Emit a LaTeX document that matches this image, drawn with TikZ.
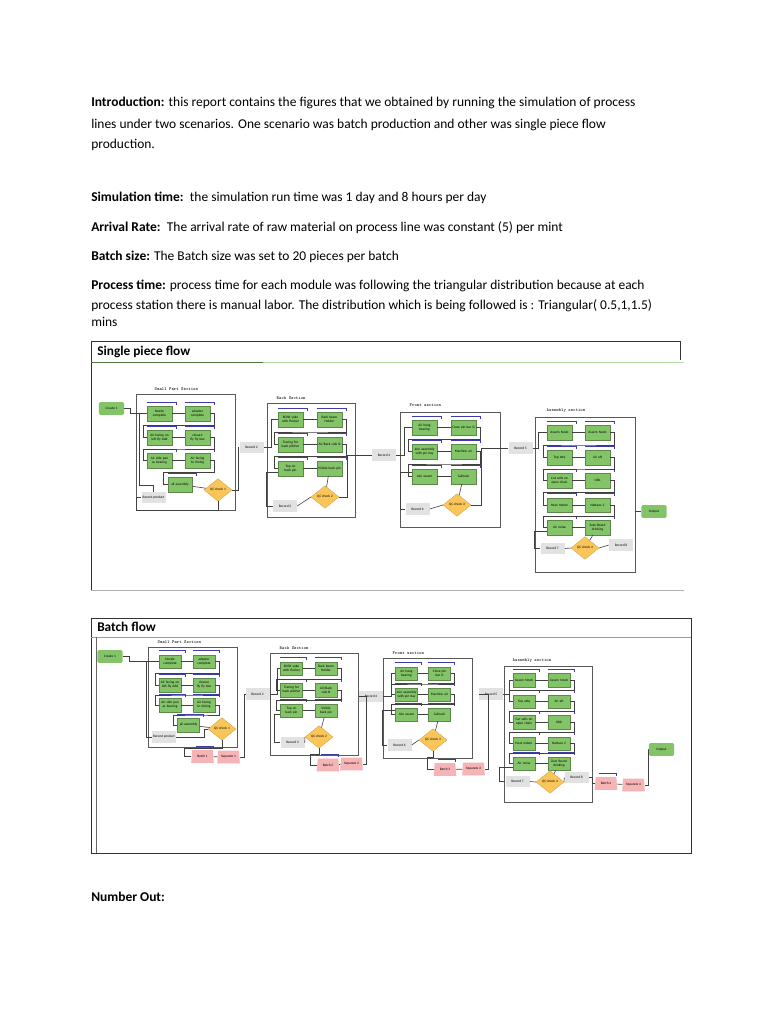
\documentclass[tikz,border=0pt]{standalone}
\usepackage{fontspec}
\setmainfont{Carlito}
\usetikzlibrary{shapes.geometric,calc}
\definecolor{gfill}{RGB}{132,196,104}
\definecolor{qfill}{RGB}{250,198,90}
\definecolor{rfill}{RGB}{226,226,226}
\definecolor{pfill}{RGB}{246,180,182}
\definecolor{barc}{RGB}{60,60,170}
\newcommand\tinyf{\fontsize{2.6}{3}\selectfont}
\newcommand\snk[2]{\draw[ln] (#1.east) -- ++(3pt,0) |- ($(#1.south)!.5!(#2.north)$) -| ([xshift=-3pt]#2.west) -- (#2.west);}
\newcommand\barr[1]{\draw[barc,line width=0.5pt] ([yshift=3pt]#1.north west) -- ([yshift=3pt,xshift=3pt]#1.north east) -- ++(0,-2pt);}
\tikzset{
 gbox/.style={draw=gfill!70!black,line width=0.2pt,fill=gfill,minimum width=18.5pt,minimum height=11pt,inner sep=0.3pt,align=center,text width=17pt,font=\tinyf},
 gsm/.style={gbox,minimum width=16.5pt,minimum height=10pt,text width=16pt},
 qc/.style={diamond,fill=qfill,draw=qfill!80!black,line width=0.2pt,minimum width=21pt,minimum height=17pt,inner sep=0pt,font=\tinyf},
 rec/.style={fill=rfill,minimum width=18pt,minimum height=8.5pt,inner sep=0.3pt,font=\tinyf},
 cre/.style={fill=gfill,rounded corners=1pt,minimum width=19pt,minimum height=9.5pt,inner sep=0.3pt,font=\tinyf},
 bat/.style={trapezium,trapezium left angle=80,trapezium right angle=80,trapezium stretches=true,fill=pfill,minimum width=17pt,minimum height=9.5pt,inner sep=0.3pt,font=\tinyf},
 ln/.style={draw=black!75,line width=0.45pt},
 frm/.style={draw=black!65,line width=0.6pt},
 sect/.style={font=\ttfamily\fontsize{3.4}{4}\selectfont,anchor=base west},
 txt/.style={anchor=base west,inner sep=0pt,font=\fontsize{10.1}{12}\selectfont}
}
\begin{document}
\begin{tikzpicture}[x=0.75pt,y=-0.75pt]
\useasboundingbox[fill=white] (0,0) rectangle (768,1024);
% ---------- text ----------
\node[txt] (t1) at (91,107) {\textbf{Introduction:} this report contains the figures that we obtained by running the simulation of process};
\node[txt] (t2) at (91,128) {lines under two scenarios. One scenario was batch production and other was single piece flow};
\node[txt] (t3) at (91,148) {production.};
\node[txt] (t4) at (91,201) {\textbf{Simulation time:}\, the simulation run time was 1 day and 8 hours per day};
\node[txt] (t5) at (91,231) {\textbf{Arrival Rate:}\, The arrival rate of raw material on process line was constant (5) per mint};
\node[txt] (t6) at (91,260) {\textbf{Batch size:} The Batch size was set to 20 pieces per batch};
\node[txt] (t7) at (91,289) {\textbf{Process time:} process time for each module was following the triangular distribution because at each};
\node[txt] (t8) at (91,309) {process station there is manual labor. The distribution which is being followed is : Triangular( 0.5,1,1.5)};
\node[txt] (t9) at (91,326) {mins};
\node[txt] (t10) at (91,901) {\textbf{Number Out:}};
% ---------- single piece flow frame ----------
\draw[black!80,line width=0.7pt] (91,590) -- (91,341) -- (680,341) -- (680,360);
\draw[black!30,line width=0.5pt] (91,590) -- (684,590);
\draw[gfill!60!black,line width=0.5pt] (91,362) -- (263,362);
\draw[gfill!60,line width=0.5pt] (263,362) -- (684,362);
\node[anchor=base west,inner sep=0pt,font=\bfseries\fontsize{10}{12}\selectfont] (h1) at (97,355) {Single piece flow};
% sections frames
\draw[frm] (136,394) rectangle (235,510);
\draw[frm] (267,403) rectangle (355,517);
\draw[frm] (400,412) rectangle (500,527);
\draw[frm] (535,417) rectangle (635,572);
\node[sect] (l1) at (150,390) {Small Part Section};
\node[sect] (l2) at (272,399) {Back Section};
\node[sect] (l3) at (405,406) {Front section};
\node[sect] (l4) at (542,411) {Assembly section};
% nodes
\node[cre] (c1) at (111.5,408.5) {Create 1};
\node[gbox] (s1) at (159.5,413.5) {Nozzle complete};
\node[gbox] (s2) at (197.5,413.5) {adapter complete};
\node[gbox] (s3) at (159.5,437.5) {Air facing on left fly Add};
\node[gbox] (s4) at (197.5,437.5) {closure fly fly box};
\node[gbox] (s5) at (159.5,460.5) {Air side pan as bearing};
\node[gbox] (s6) at (197.5,460.5) {Air facing to timing};
\node[gbox] (s7) at (180,484.5) {all assembly};
\node[qc] (q1) at (218,490) {QC check 1};
\node[rec] (rp) at (153.5,497.5) {Record product};
\node[rec] (r2) at (251.5,447.5) {Record 2};
\node[gbox] (b1) at (290.5,419.5) {ROSK yoke with flocker};
\node[gbox] (b2) at (329.5,419.5) {Back beam Holder};
\node[gbox] (b3) at (290.5,444.5) {Tracing for back pitcher};
\node[gbox] (b4) at (329.5,444.5) {Air/Back side B};
\node[gbox] (b5) at (290.5,468.5) {Top on back pin};
\node[gbox] (b6) at (329.5,468.5) {Visible back pin};
\node[qc] (q2) at (325,497) {QC check 2};
\node[rec] (r3) at (285,506) {Record 3};
\node[rec] (r4) at (384,455) {Record 4};
\node[gbox] (f1) at (424.5,427.5) {Air hang bearing};
\node[gbox] (f2) at (463.5,427.5) {Close pin bar D};
\node[gbox] (f3) at (424.5,451.5) {Join assembly with pin bay};
\node[gbox] (f4) at (463.5,451.5) {Machine air};
\node[gbox] (f5) at (424.5,476.5) {Join assem};
\node[gbox] (f6) at (463.5,476.5) {Gallrack};
\node[qc] (q3) at (457,505) {QC check 3};
\node[rec] (r6) at (417.5,509) {Record 6};
\node[rec] (r5) at (520.5,448) {Record 5};
\node[gbox] (a1) at (559.5,432.5) {Assem Noob};
\node[gbox] (a2) at (597.5,432.5) {Assem Noob};
\node[gbox] (a3) at (559.5,457.5) {Top attq};
\node[gbox] (a4) at (597.5,457.5) {Air aft};
\node[gbox] (a5) at (559.5,480.5) {Cut sells on open chain};
\node[gbox] (a6) at (597.5,480.5) {Obb};
\node[gbox] (a7) at (559.5,505) {Heat mdom};
\node[gbox] (a8) at (597.5,505) {Nattaos 2};
\node[gbox] (a9) at (559.5,527.5) {Air noise};
\node[gbox] (a10) at (597.5,527.5) {Zute Board drinking};
\node[qc] (q4) at (585,548) {QC check 4};
\node[rec] (r7) at (552.5,548.5) {Record 7};
\node[rec] (r8) at (621,545) {Record 8};
\node[cre] (out) at (654,511.5) {Output};
\coordinate (oe) at (635,511.5);
\foreach \n in {s1,s2,s3,s4,s5,s6,s7,b1,b2,b3,b4,b5,b6,f1,f2,f3,f4,f5,f6,a1,a2,a3,a4,a5,a6,a7,a8,a9,a10} {\barr{\n}}
% connectors
\draw[ln] (c1.east) -- ++(6,0) |- (s1.west);
\draw[ln] (s1) -- (s2); \snk{s2}{s3} \draw[ln] (s3) -- (s4); \snk{s4}{s5} \draw[ln] (s5) -- (s6); \snk{s6}{s7}
\draw[ln] (s7) -- (q1); \draw[ln] (q1.east) -- ++(6,0) |- (r2.west);
\draw[ln] (q1.south) -- ++(0,9) -| ([xshift=-4]rp.west) -- (rp.west);
\draw[ln] (rp.north) -- ++(0,-6) -| ([xshift=-6]s1.west);
\draw[ln] (r2.east) -- ++(8,0) |- (b1.west);
\draw[ln] (b1) -- (b2); \snk{b2}{b3} \draw[ln] (b3) -- (b4); \snk{b4}{b5} \draw[ln] (b5) -- (b6);
\draw[ln] (b6) -- (q2); \draw[ln] (q2.east) -- ++(8,0) |- (r4.west);
\draw[ln] (q2.west) -- (r3.east);
\draw[ln] (r3.west) -- ++(-6,0) |- ([yshift=-3]b5.west);
\draw[ln] (r4.east) -- ++(8,0) |- (f1.west);
\draw[ln] (f1) -- (f2); \snk{f2}{f3} \draw[ln] (f3) -- (f4); \snk{f4}{f5} \draw[ln] (f5) -- (f6);
\draw[ln] (f6) -- (q3); \draw[ln] (q3.east) -- ++(10,0) |- (r5.west);
\draw[ln] (q3.west) -- (r6.east);
\draw[ln] (r6.west) -- ++(-5,0) |- ([yshift=3]f5.west);
\draw[ln] (r5.east) -- ++(6,0) |- (a1.west);
\draw[ln] (a1) -- (a2); \snk{a2}{a3} \draw[ln] (a3) -- (a4); \snk{a4}{a5} \draw[ln] (a5) -- (a6); \snk{a6}{a7}
\draw[ln] (a7) -- (a8); \snk{a8}{a9} \draw[ln] (a9) -- (a10);
\draw[ln] (a10) -- (q4); \draw[ln] (q4.west) -- (r7.east); \draw[ln] (q4.east) -- (r8.west);
\draw[ln] (r7.west) -- ++(-6,0) |- ([yshift=-3]a9.west);
\draw[ln] (oe) -- (out.west);
% ---------- batch flow ----------
\draw[black!80,line width=0.7pt] (91,618) rectangle (691,853);
\draw[black!40,line width=0.5pt] (91,637) -- (691,637);
\draw[black!60,line width=0.4pt] (96,637) -- (96,853);
\node[anchor=base west,inner sep=0pt,font=\bfseries\fontsize{10}{12}\selectfont] (h2) at (97,631) {Batch flow};
\draw[frm] (148,647) rectangle (237,747);
\draw[frm] (270,653) rectangle (358,755);
\draw[frm] (383,658) rectangle (472,758);
\draw[frm] (504,666) rectangle (592,802);
\node[sect] (m1) at (153,643) {Small Part Section};
\node[sect] (m2) at (275,649) {Back Section};
\node[sect] (m3) at (388,654) {Front section};
\node[sect] (m4) at (508,661) {Assembly section};
\node[cre] (d1) at (110,656.5) {Create 1};
\node[gsm] (u1) at (170,661.5) {Nozzle complete};
\node[gsm] (u2) at (204,661.5) {adapter complete};
\node[gsm] (u3) at (170,685) {Air facing on left fly Add};
\node[gsm] (u4) at (204,685) {closure fly fly box};
\node[gsm] (u5) at (170,705) {Air side pan as bearing};
\node[gsm] (u6) at (204,705) {Air facing to timing};
\node[gsm] (u7) at (188.5,725) {all assembly};
\node[qc] (p1) at (222,729) {QC check 1};
\node[rec] (rq) at (164,737) {Record product};
\node[bat] (k1) at (202.5,756.5) {Batch 1};
\node[bat] (e1) at (228.5,757) {Separate 1};
\node[rec] (x2) at (257.5,694) {Record 2};
\node[gsm] (v1) at (291.5,668.5) {ROSK yoke with flocker};
\node[gsm] (v2) at (326,668.5) {Back beam Holder};
\node[gsm] (v3) at (291.5,690) {Tracing for back pitcher};
\node[gsm] (v4) at (326,690) {Air/Back side B};
\node[gsm] (v5) at (291.5,710.5) {Top on back pin};
\node[gsm] (v6) at (326,710.5) {Visible back pin};
\node[qc] (p2) at (319,737) {QC check 2};
\node[rec] (x3) at (292.5,742.5) {Record 3};
\node[bat] (k2) at (328,765) {Batch 2};
\node[bat] (e2) at (351.5,764) {Separate 2};
\node[rec] (x4) at (371,696.5) {Record 4};
\node[gsm] (w1) at (406.5,673.5) {Air hang bearing};
\node[gsm] (w2) at (439.5,673.5) {Close pin bar D};
\node[gsm] (w3) at (406.5,694.5) {Join assembly with pin bay};
\node[gsm] (w4) at (439.5,694.5) {Machine air};
\node[gsm] (w5) at (406.5,714.5) {Join assem};
\node[gsm] (w6) at (439.5,714.5) {Gallrack};
\node[qc] (p3) at (433,740) {QC check 3};
\node[rec] (x6) at (399.5,745) {Record 6};
\node[bat] (k3) at (445,769.5) {Batch 3};
\node[bat] (e3) at (473.5,769) {Separate 3};
\node[rec] (x5) at (491,694) {Record 5};
\node[gsm] (z1) at (524,680) {Assem Noob};
\node[gsm] (z2) at (559,680) {Assem Noob};
\node[gsm] (z3) at (524,701.5) {Top attq};
\node[gsm] (z4) at (559,701.5) {Air aft};
\node[gsm] (z5) at (524,722) {Cut sells on open chain};
\node[gsm] (z6) at (559,722) {Obb};
\node[gsm] (z7) at (524,743.5) {Heat mdom};
\node[gsm] (z8) at (559,743.5) {Nattaos 2};
\node[gsm] (z9) at (524,763.5) {Air noise};
\node[gsm] (z10) at (559,763.5) {Zute Board drinking};
\node[qc] (p4) at (550,782) {QC check 4};
\node[rec] (x7) at (517.5,781.5) {Record 7};
\node[rec] (x8) at (576.5,777.5) {Record 8};
\node[bat] (k4) at (606,783.5) {Batch 4};
\node[bat] (e4) at (633.5,785) {Separate 4};
\node[cre] (out2) at (661.5,749.5) {Output};
\foreach \n in {u1,u2,u3,u4,u5,u6,u7,v1,v2,v3,v4,v5,v6,w1,w2,w3,w4,w5,w6,z1,z2,z3,z4,z5,z6,z7,z8,z9,z10,k1,k2,k3,k4} {\barr{\n}}
\draw[ln] (d1.east) -- ++(6,0) |- (u1.west);
\draw[ln] (u1) -- (u2); \snk{u2}{u3} \draw[ln] (u3) -- (u4); \snk{u4}{u5} \draw[ln] (u5) -- (u6); \snk{u6}{u7}
\draw[ln] (u7) -- (p1); \draw[ln] (p1.west) -- ++(-4,0) |- (rq.east);
\draw[ln] (rq.west) -- ++(-5,0) |- ([xshift=-6]u1.west);
\draw[ln] (p1.south) -- ++(0,8) -| ([xshift=-5]k1.west) -- (k1.west);
\draw[ln] (k1) -- (e1); \draw[ln] (e1.east) -- ++(5,0) |- (x2.west);
\draw[ln] (x2.east) -- ++(8,0) |- (v1.west);
\draw[ln] (v1) -- (v2); \snk{v2}{v3} \draw[ln] (v3) -- (v4); \snk{v4}{v5} \draw[ln] (v5) -- (v6);
\draw[ln] (v6) -- (p2); \draw[ln] (p2.west) -- (x3.east);
\draw[ln] (x3.west) -- ++(-6,0) |- ([yshift=-3]v5.west);
\draw[ln] (p2.south) -- ++(0,6) -| ([xshift=-5]k2.west) -- (k2.west);
\draw[ln] (k2) -- (e2); \draw[ln] (e2.east) -- ++(4,0) |- (x4.west);
\draw[ln] (x4.east) -- ++(8,0) |- (w1.west);
\draw[ln] (w1) -- (w2); \snk{w2}{w3} \draw[ln] (w3) -- (w4); \snk{w4}{w5} \draw[ln] (w5) -- (w6);
\draw[ln] (w6) -- (p3); \draw[ln] (p3.west) -- (x6.east);
\draw[ln] (x6.west) -- ++(-5,0) |- ([yshift=3]w5.west);
\draw[ln] (p3.south) -- ++(0,6) -| ([xshift=-5]k3.west) -- (k3.west);
\draw[ln] (k3) -- (e3); \draw[ln] (e3.east) -- ++(4,0) |- (x5.west);
\draw[ln] (x5.east) -- ++(6,0) |- (z1.west);
\draw[ln] (z1) -- (z2); \snk{z2}{z3} \draw[ln] (z3) -- (z4); \snk{z4}{z5} \draw[ln] (z5) -- (z6); \snk{z6}{z7}
\draw[ln] (z7) -- (z8); \snk{z8}{z9} \draw[ln] (z9) -- (z10);
\draw[ln] (z10) -- (p4); \draw[ln] (p4.west) -- (x7.east); \draw[ln] (p4.east) -- (x8.west);
\draw[ln] (x7.west) -- ++(-6,0) |- ([yshift=-3]z9.west);
\draw[ln] (x8.east) -- ++(4,0) |- (k4.west);
\draw[ln] (k4) -- (e4); \draw[ln] (e4.east) -- ++(4,0) |- (out2.west);
\end{tikzpicture}
\end{document}
